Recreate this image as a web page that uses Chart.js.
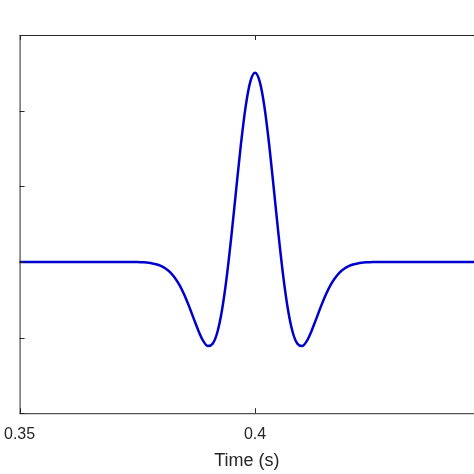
<!DOCTYPE html>
<html>
<head>
<script src="https://cdn.jsdelivr.net/npm/chart.js@4"></script>
<style>
  html, body { margin: 0; padding: 0; background: #fff; overflow: hidden; }
  #wrap { width: 474px; height: 474px; }
</style>
</head>
<body>
<div id="wrap"><canvas id="chartWave"></canvas></div>
<script>
// samples (seconds, amplitude)
const times = [0.350, 0.375, 0.376, 0.377, 0.378, 0.379, 0.380, 0.381, 0.382, 0.383, 0.384,
  0.385, 0.386, 0.387, 0.388, 0.389, 0.390, 0.391, 0.392, 0.393, 0.394, 0.395, 0.396,
  0.397, 0.398, 0.399, 0.400, 0.401, 0.402, 0.403, 0.404, 0.405, 0.406, 0.407, 0.408,
  0.409, 0.410, 0.411, 0.412, 0.413, 0.414, 0.415, 0.416, 0.417, 0.418, 0.419, 0.420,
  0.421, 0.422, 0.423, 0.424, 0.425, 0.4465];
const amps = [0, -0.001, -0.002, -0.003, -0.007, -0.012, -0.021, -0.035, -0.055, -0.085, -0.124,
  -0.175, -0.235, -0.301, -0.365, -0.418, -0.445, -0.433, -0.372, -0.253, -0.078, 0.142, 0.384,
  0.621, 0.820, 0.953, 1.0, 0.953, 0.820, 0.621, 0.384, 0.142, -0.078, -0.253, -0.372,
  -0.433, -0.445, -0.418, -0.365, -0.301, -0.235, -0.175, -0.124, -0.085, -0.055, -0.035, -0.021,
  -0.012, -0.007, -0.003, -0.002, -0.001, 0];
const yTicks = [-0.8, -0.4, 0, 0.4, 0.8, 1.2];
const xTicks = [0.35, 0.4];

const innerTicks = {
  id: "innerTicks",
  afterDraw(chart) {
    const { ctx, chartArea: a, scales } = chart;
    ctx.save();
    ctx.strokeStyle = "#262626";
    ctx.lineWidth = 1;
    ctx.strokeRect(a.left + 0.5, a.top + 0.5, a.right - a.left, a.bottom - a.top);
    ctx.beginPath();
    yTicks.forEach(v => {
      const y = Math.round(scales.y.getPixelForValue(v)) + 0.5;
      ctx.moveTo(a.left, y); ctx.lineTo(a.left + 5, y);
    });
    xTicks.forEach(v => {
      const x = Math.round(scales.x.getPixelForValue(v)) + 0.5;
      ctx.moveTo(x, a.bottom); ctx.lineTo(x, a.bottom - 5);
      ctx.moveTo(x, a.top); ctx.lineTo(x, a.top + 5);
    });
    ctx.stroke();
    ctx.restore();
  }
};

new Chart(document.getElementById("chartWave"), {
  type: "line",
  data: {
    datasets: [{
      data: times.map((t, i) => ({ x: t, y: amps[i] })),
      borderColor: "#0000cd",
      borderWidth: 2.5,
      pointRadius: 0,
      cubicInterpolationMode: "monotone",
      clip: false
    }]
  },
  options: {
    responsive: true,
    maintainAspectRatio: false,
    animation: false,
    layout: { padding: { left: -10, top: 35, right: 0, bottom: 2 } },
    plugins: { legend: { display: false }, tooltip: { enabled: false } },
    scales: {
      x: {
        type: "linear",
        min: 0.35,
        max: 0.4465,
        border: { display: false },
        grid: { display: false },
        afterBuildTicks: s => { s.ticks = xTicks.map(v => ({ value: v })); },
        ticks: {
          color: "#262626",
          font: { family: "Liberation Sans", size: 16 },
          padding: 4,
          maxRotation: 0,
          callback: v => String(v)
        },
        title: {
          display: true,
          text: "Time (s)",
          color: "#262626",
          font: { family: "Liberation Sans", size: 18 },
          padding: { top: 2, bottom: 0 }
        }
      },
      y: {
        min: -0.8,
        max: 1.2,
        border: { display: false },
        grid: { display: false },
        afterBuildTicks: s => { s.ticks = yTicks.map(v => ({ value: v })); },
        ticks: { display: false }
      }
    }
  },
  plugins: [innerTicks]
});
</script>
</body>
</html>
